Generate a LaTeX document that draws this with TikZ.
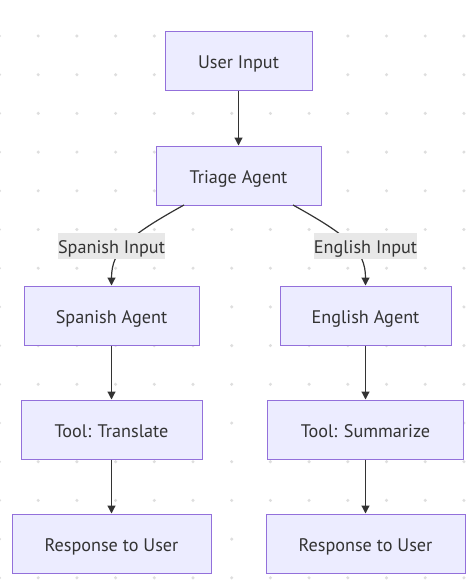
\documentclass[tikz,border=0pt]{standalone}
\usepackage{fontspec}
\setmainfont{PT Sans}
\usetikzlibrary{arrows.meta}
\definecolor{boxfill}{HTML}{ECECFF}
\definecolor{boxline}{HTML}{9370DB}
\definecolor{ink}{HTML}{333333}
\definecolor{lblfill}{HTML}{E8E8E8}
\definecolor{dotgray}{HTML}{DEDEDE}
\begin{document}
\begin{tikzpicture}[x=1pt, y=-1pt]

      \tikzset{agent/.style={draw=boxline, fill=boxfill, line width=1pt, minimum height=59pt, inner sep=0pt, text=ink, text height=17pt, text depth=2pt, font=\fontsize{18.2}{21}\selectfont},
               flow/.style={draw=ink, line width=1.2pt, -{Triangle[length=8pt, width=8pt]}},
               tag/.style={fill=lblfill, inner sep=0pt, minimum height=26pt, text=ink, text height=16pt, text depth=2pt, font=\fontsize{18.2}{21}\selectfont}}
      \useasboundingbox (0,0) rectangle (474,583);
% Dots
      \foreach \i in {0,...,12}
        \foreach \j in {0,...,14}
          \fill[dotgray] (-0.5+38.7*\i, 36+38.7*\j) circle (1.7pt);
% Vertices
      	\node[agent, minimum width=147pt] (inp) at (238.5,61.5) {User Input};
      	\node[agent, minimum width=165pt] (tri) at (238.5,175.5) {Triage Agent};
    	\node[agent, minimum width=175pt] (spa) at (111.5,315.5) {Spanish Agent};
  	    \node[agent, minimum width=171pt] (eng) at (365.5,315.5) {English Agent};
  	    \node[agent, minimum width=181pt] (tra) at (111.5,429.5) {Tool: Translate};
  	    \node[agent, minimum width=196pt] (sum) at (365.5,429.5) {Tool: Summarize};
  	    \node[agent, minimum width=199pt] (rs) at (111.5,543.5) {Response to User};
  	    \node[agent, minimum width=199pt] (re) at (365.5,543.5) {Response to User};
  	    \coordinate (tl) at (184,205);
  	    \coordinate (tr) at (293,205);
%Edges
		\path (inp) edge[flow] (tri);
		\draw[flow] (tl) .. controls (130,235) and (111.5,250) .. (spa.north);
		\draw[flow] (tr) .. controls (347,235) and (365.5,250) .. (eng.north);
		\path (spa) edge[flow] (tra);
		\path (eng) edge[flow] (sum);
		\path (tra) edge[flow] (rs);
		\path (sum) edge[flow] (re);
%Labels
		\node[tag, minimum width=105pt] (ls) at (111.5,246) {Spanish Input};
		\node[tag, minimum width=101pt] (le) at (365.5,246) {English Input};

	\end{tikzpicture}
\end{document}
